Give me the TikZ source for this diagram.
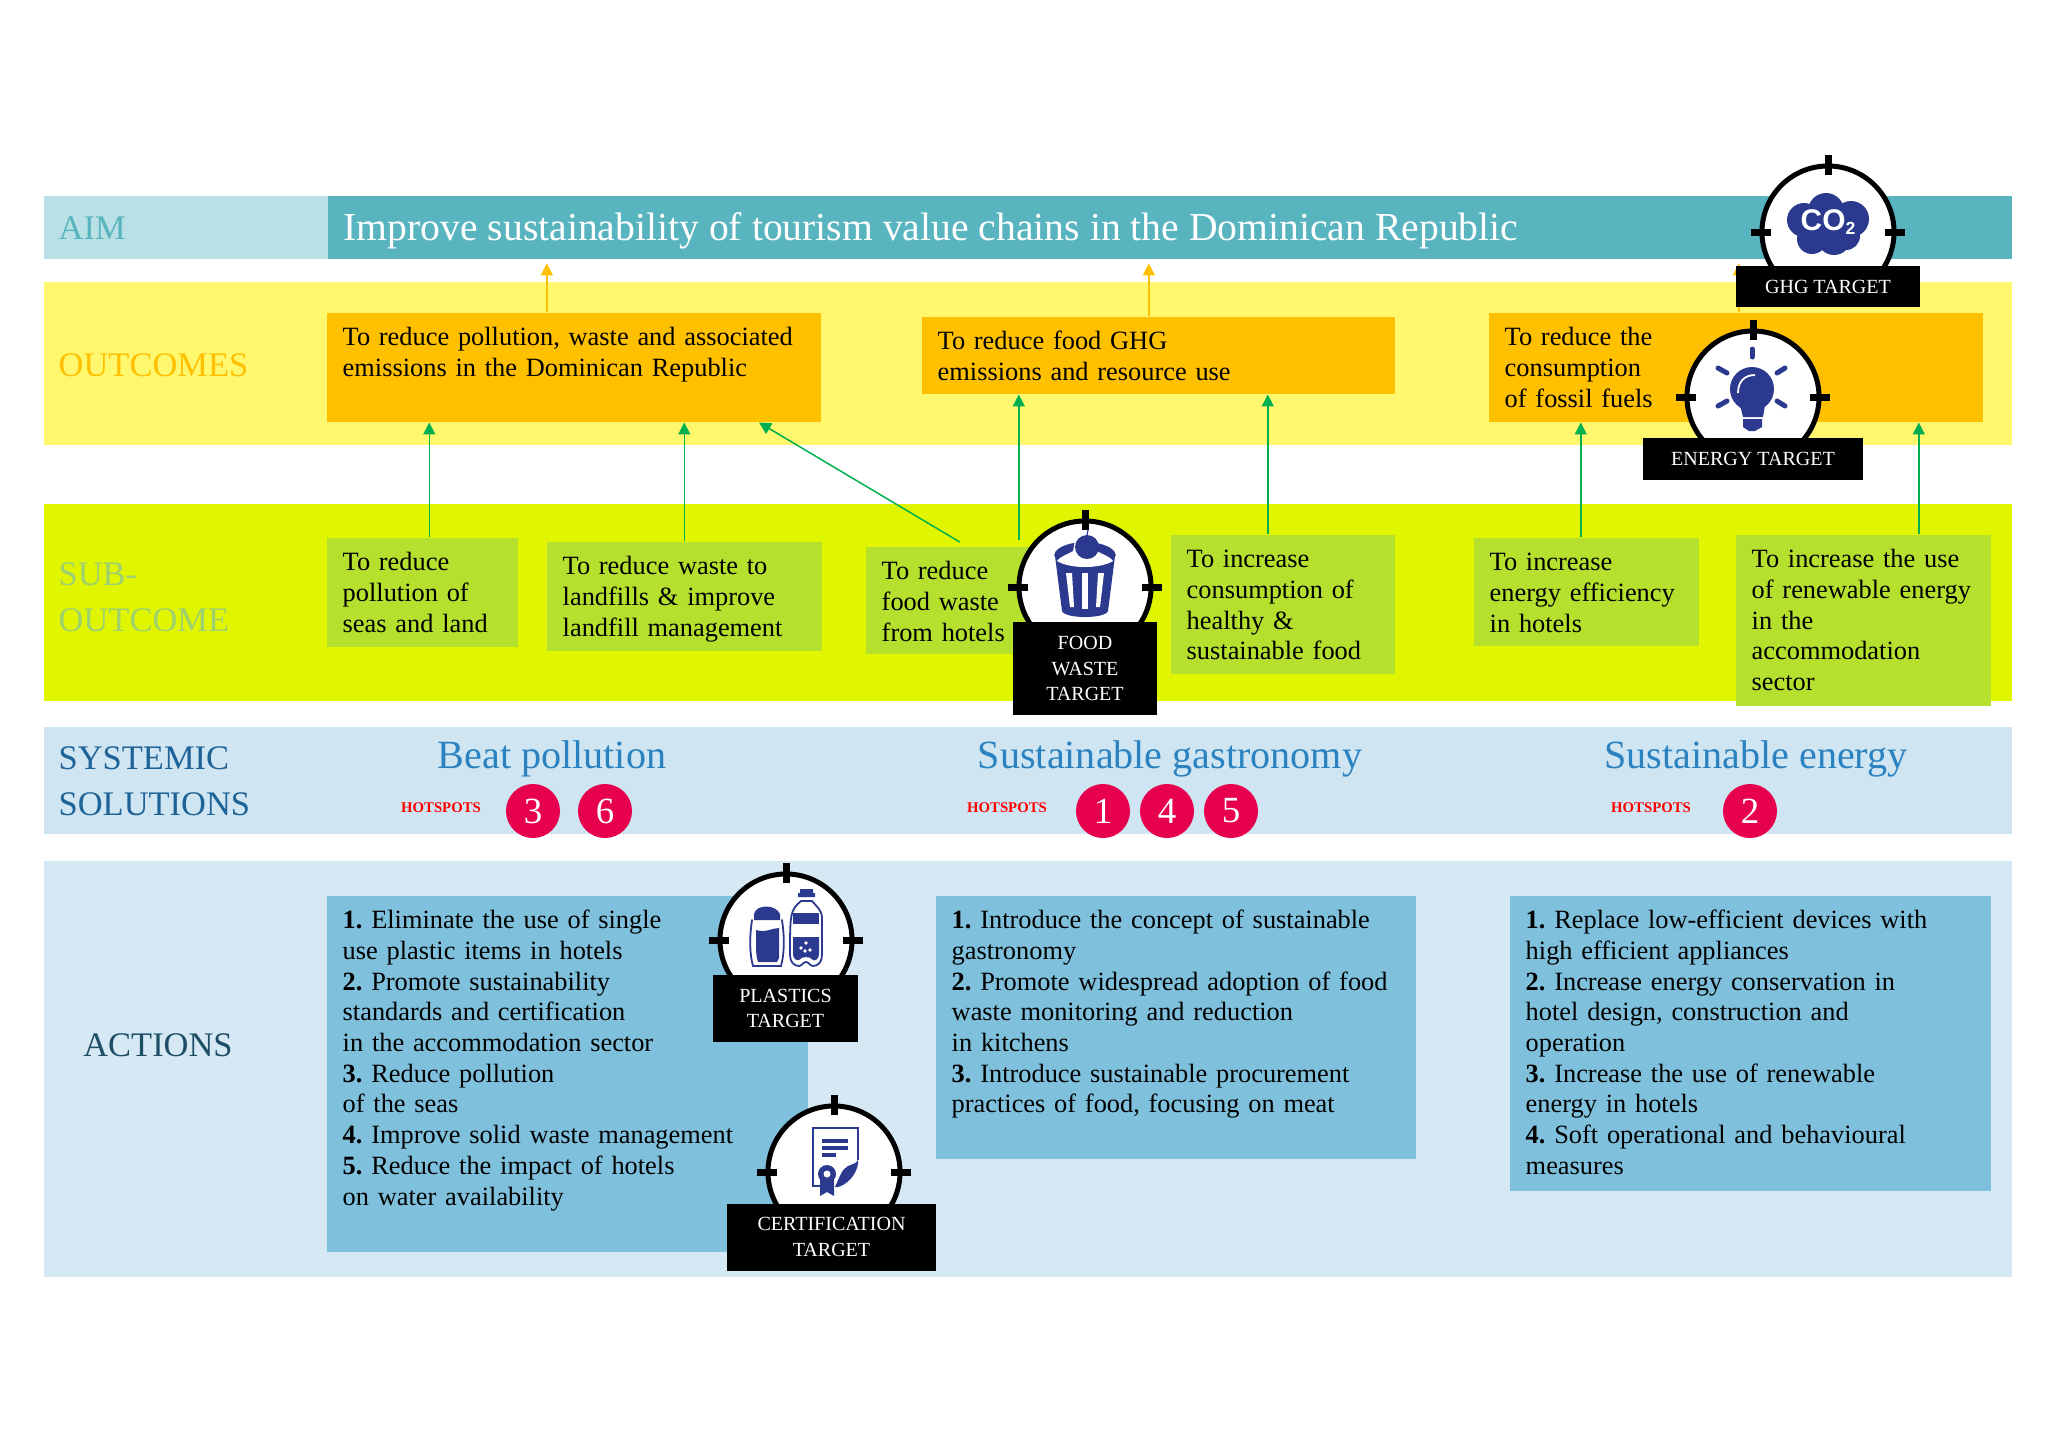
\documentclass[tikz,border=0pt]{standalone}
\usepackage{fontspec}
\setmainfont{Liberation Serif}
\setsansfont{Liberation Sans}
\usetikzlibrary{arrows.meta}

\definecolor{aimlight}{HTML}{B9E0E5}
\definecolor{aimteal}{HTML}{58B5C0}
\definecolor{outband}{HTML}{FFF76E}
\definecolor{outbox}{HTML}{FFC000}
\definecolor{subband}{HTML}{E0F500}
\definecolor{subbox}{HTML}{B5E02E}
\definecolor{subtext}{HTML}{9CD070}
\definecolor{sysband}{HTML}{CFE5F2}
\definecolor{actband}{HTML}{D5E8F3}
\definecolor{actbox}{HTML}{7FC0DC}
\definecolor{headblue}{HTML}{2B82C0}
\definecolor{darkblue}{HTML}{1D6397}
\definecolor{acttext}{HTML}{1E4E66}
\definecolor{hotred}{HTML}{E6004D}
\definecolor{arrowgreen}{HTML}{00B050}
\definecolor{icon}{HTML}{2B3A8F}

\tikzset{
  band/.style 2 args={anchor=north west, inner sep=0, minimum width=#1cm, minimum height=#2cm},
  tbox/.style 2 args={anchor=north west, inner xsep=0.16cm, inner ysep=0, align=left,
    text width=#1cm, text height=0.33cm, text depth=#2cm,
    font=\fontsize{7.5}{8.73}\selectfont\frenchspacing},
  lab/.style={anchor=west, inner sep=0, font=\fontsize{9.8}{13.1}\selectfont},
  head/.style={text=headblue, font=\fontsize{11.4}{13}\selectfont},
  hot/.style={text=red, font=\bfseries\fontsize{4.2}{5}\selectfont},
  hotnum/.style={circle, fill=hotred, text=white, inner sep=0, minimum size=0.54cm,
    font=\fontsize{10.5}{12}\selectfont},
  ring/.style={circle, draw=black, fill=white, line width=0.05cm, inner sep=0, minimum size=1.32cm},
  tag/.style={fill=black, text=white, inner sep=0, align=center,
    font=\fontsize{5.7}{7.2}\selectfont},
  tick/.style={draw=black, line width=0.07cm},
  gline/.style={draw=arrowgreen, line width=0.015cm},
  oline/.style={draw=outbox, line width=0.015cm},
  ic/.style={fill=icon, draw=none},
  icl/.style={draw=icon, line cap=round},
}
\newcommand{\ringticks}[1]{%
  \foreach \a in {0,180,-90} \path[tick] (#1) ++(\a:57) -- ++(\a:20);}

\begin{document}
\begin{tikzpicture}[>={Triangle[length=0.12cm,width=0.12cm]}, x=0.01cm, y=-0.01cm]
\useasboundingbox (1,0) rectangle (2049,1447);
%%%%%%%%%%%%%%%%%%%%%% Aim
\draw (44,195) node[band={2.84}{0.63}, fill=aimlight] (aimlab) {};
\draw (328,195) node[band={16.83}{0.63}, fill=aimteal] (aim) {};
\draw (aimlab.west) ++ (15,1) node[lab, text=aimteal] (aimtxt) {AIM};
\draw (aim.west) ++ (16,4) node[anchor=west, inner sep=0, text=white, font=\fontsize{11.27}{13}\selectfont] (aimtitle)
  {Improve sustainability of tourism value chains in the Dominican Republic};

%%%%%%%%%%%%%%%%%%%%%% Outcomes
\draw (44,281) node[band={19.67}{1.63}, fill=outband] (outrow) {};
\draw (outrow.west) ++ (15,2) node[lab, text=outbox] (outtxt) {OUTCOMES};
%% Out1
\draw (327,312) node[tbox={4.62}{0.76}, fill=outbox] (out1)
  {To reduce pollution, waste and associated\\emissions in the Dominican Republic};
%% Out2
\draw (922,316) node[tbox={4.41}{0.44}, fill=outbox] (out2)
  {To reduce food GHG\\emissions and resource use};
%% Out3
\draw (1489,312) node[tbox={4.62}{0.76}, fill=outbox] (out3)
  {To reduce the\\consumption\\of fossil fuels};

%%%%%%%%%%%%%%%%%%%%%% Sub-outcome
\draw (44,503) node[band={19.67}{1.97}, fill=subband] (subrow) {};
\draw (subrow.west) ++ (15,-5) node[lab, text=subtext, align=left] (subtxt) {SUB-\\OUTCOME};
\draw (327,537) node[tbox={1.59}{0.76}, fill=subbox] (sub1)
  {To reduce\\pollution of\\seas and land};
\draw (547,541) node[tbox={2.43}{0.76}, fill=subbox] (sub2)
  {To reduce waste to\\landfills \& improve\\landfill management};
\draw (866,546) node[tbox={1.32}{0.74}, fill=subbox] (sub3)
  {To reduce\\food waste\\from hotels};
\draw (1171,534) node[tbox={1.92}{1.06}, fill=subbox] (sub4)
  {To increase\\consumption of\\healthy \&\\sustainable food};
\draw (1474,537) node[tbox={1.93}{0.75}, fill=subbox] (sub5)
  {To increase\\energy efficiency\\in hotels};
\draw (1736,534) node[tbox={2.23}{1.38}, fill=subbox] (sub6)
  {To increase the use\\of renewable energy\\in the\\accommodation\\sector};

%% arrows up
\path[gline, ->] ([xshift=0.07cm]sub1.north) -- ([xshift=0.07cm]sub1.north |- out1.south);
\path[gline, ->] (sub2.north) -- (sub2.north |- out1.south);
\path[gline, ->] ([xshift=0.12cm,yshift=0.04cm]sub3.north) -- ([xshift=1.85cm]out1.south);
\path[gline, ->] ([xshift=0.71cm,yshift=0.06cm]sub3.north) -- ([xshift=0.71cm]sub3.north |- out2.south);
\path[gline, ->] ([xshift=-0.15cm]sub4.north) -- ([xshift=-0.15cm]sub4.north |- out2.south);
\path[gline, ->] ([xshift=-0.055cm]sub5.north) -- ([xshift=-0.055cm]sub5.north |- out3.south);
\path[gline, ->] ([xshift=0.555cm]sub6.north) -- ([xshift=0.555cm]sub6.north |- out3.south);
\path[oline, ->, shorten >=0.04cm] ([xshift=-0.27cm]out1.north) -- ([xshift=-0.27cm]out1.north |- aim.south);
\path[oline, ->, shorten >=0.04cm] ([xshift=-0.095cm]out2.north) -- ([xshift=-0.095cm]out2.north |- aim.south);
\path[oline, ->, shorten >=0.04cm] ([xshift=0.03cm]out3.north) -- ([xshift=0.03cm]out3.north |- aim.south);

%%%%%%%%%%%%%%%%%%%%%% Systemic solutions
\draw (44,726) node[band={19.67}{1.07}, fill=sysband] (sysrow) {};
\draw (sysrow.west) ++ (15,1) node[lab, text=darkblue, align=left] (systxt) {SYSTEMIC\\SOLUTIONS};
\draw (553,759) node[head] (beat) {Beat pollution};
\draw (1171,759) node[head] (gastro) {Sustainable gastronomy};
\draw (1757,759) node[head] (energy) {Sustainable energy};
\draw (442,808) node[hot] (hot1) {HOTSPOTS};
\draw (1008,808) node[hot] (hot2) {HOTSPOTS};
\draw (1652,808) node[hot] (hot3) {HOTSPOTS};
\draw (534,811) node[hotnum] (h3) {3};
\draw (h3) ++ (72,0) node[hotnum] (h6) {6};
\draw (1104,811) node[hotnum] (h1) {1};
\draw (h1) ++ (64,0) node[hotnum] (h4) {4};
\draw (h4) ++ (64,0) node[hotnum] (h5) {5};
\draw (1751,811) node[hotnum] (h2) {2};

%%%%%%%%%%%%%%%%%%%%%% Actions
\draw (44,860) node[band={19.67}{4.16}, fill=actband] (actrow) {};
\draw (159,1045) node[lab, anchor=center, text=acttext] (acttxt) {ACTIONS};
\draw (327,895) node[tbox={4.49}{3.23}, fill=actbox] (act1)
  {\textbf{1.} Eliminate the use of single\\use plastic items in hotels\\
   \textbf{2.} Promote sustainability\\standards and certification\\
   in the accommodation sector\\\textbf{3.} Reduce pollution\\of the seas\\
   \textbf{4.} Improve solid waste management\\\textbf{5.} Reduce the impact of hotels\\
   on water availability};
\draw (936,895) node[tbox={4.48}{2.30}, fill=actbox] (act2)
  {\textbf{1.} Introduce the concept of sustainable\\gastronomy\\
   \textbf{2.} Promote widespread adoption of food\\waste monitoring and reduction\\
   in kitchens\\\textbf{3.} Introduce sustainable procurement\\
   practices of food, focusing on meat};
\draw (1510,895) node[tbox={4.49}{2.62}, fill=actbox] (act3)
  {\textbf{1.} Replace low-efficient devices with\\high efficient appliances\\
   \textbf{2.} Increase energy conservation in\\hotel design, construction and\\
   operation\\\textbf{3.} Increase the use of renewable\\energy in hotels\\
   \textbf{4.} Soft operational and behavioural\\measures};

%%%%%%%%%%%%%%%%%%%%%% GHG target
\draw (1829,232) node[ring] (ghg) {};
\ringticks{ghg}
\begin{scope}[shift={(ghg.center)}]
\foreach \px/\py/\r in {-24/-12/17, -2/-21/18, 23/-13/18, -16/7/15, 6/6/17, 18/4/14, 0/-8/22}
  \path[ic] (\px,\py) circle (\r);
\end{scope}
\draw (ghg) ++ (0,-10) node[text=white, font=\sffamily\bfseries\fontsize{8.5}{10}\selectfont] (co2)
  {CO\raisebox{-1.2pt}{\fontsize{5}{6}\selectfont 2}};
\draw (1829,286.5) node[tag, minimum width=1.84cm, minimum height=0.41cm] (ghgtag) {GHG TARGET};

%%%%%%%%%%%%%%%%%%%%%% Energy target
\draw (1754,397) node[ring] (bulb) {};
\ringticks{bulb}
\begin{scope}[shift={(bulb.center)}]
\path[ic] (-1,-8) circle (22);
\path[ic] (-13,8) -- (-10,20) -- (10,20) -- (12,8) -- cycle;
\path[ic] (-10,22) -- (9,22) -- (9,30) -- (2,34) -- (-4,34) -- (-10,30) -- cycle;
\path[draw=white, line width=0.018cm] (-15,-4) .. controls (-15,-16) and (-8,-22) .. (2,-22);
\path[icl, line width=0.05cm] (-1,-48) -- (-1,-40);
\path[icl, line width=0.05cm] (-35,-29) -- (-26,-24);
\path[icl, line width=0.05cm] (32,-29) -- (24,-24);
\path[icl, line width=0.05cm] (-35,9) -- (-26,4);
\path[icl, line width=0.05cm] (32,9) -- (24,4);
\end{scope}
\draw (1754,459) node[tag, minimum width=2.2cm, minimum height=0.42cm] (bulbtag) {ENERGY TARGET};

%%%%%%%%%%%%%%%%%%%%%% Food waste target
\draw (1086,587) node[ring] (food) {};
\ringticks{food}
\begin{scope}[shift={(food.center)}]
\path[ic] (-30,-31) -- (-23,24) .. controls (-20,32) and (20,32) .. (23,24) -- (30,-31) -- cycle;
\path[ic] (-31,-31) arc (180:250:31 and 14) -- (-12,-36) -- (-24,-30) -- cycle;
\path[ic] (31,-31) arc (0:-70:31 and 14) -- (12,-36) -- (24,-30) -- cycle;
\path[fill=white] (-28,-26) .. controls (-15,-18) and (15,-18) .. (28,-26) .. controls (20,-38) and (-20,-38) .. (-28,-26) -- cycle;
\path[fill=white] (-19,-14) -- (-13,-14) -- (-11,20) -- (-15,20) -- cycle;
\path[fill=white] (-3,-14) -- (3,-14) -- (3,22) -- (-3,22) -- cycle;
\path[fill=white] (19,-14) -- (13,-14) -- (11,20) -- (15,20) -- cycle;
\path[ic] (2,-40) circle (12);
\path[icl, line width=0.012cm] (2,-52) -- (3,-57);
\end{scope}
\draw (1086,668.5) node[tag, minimum width=1.44cm, minimum height=0.93cm] (foodtag) {FOOD\\WASTE\\TARGET};

%%%%%%%%%%%%%%%%%%%%%% Plastics target
\draw (787,940) node[ring] (plast) {};
\ringticks{plast}
\begin{scope}[shift={(plast.center)}]
\path[ic] (-32,-26) .. controls (-30,-36) and (-10,-36) .. (-6,-26) -- (-6,-20) -- (-32,-20) -- cycle;
\path[icl, line width=0.018cm] (-34,-20) .. controls (-37,0) and (-36,15) .. (-33,26) -- (-5,26) .. controls (-2,15) and (-1,0) .. (-4,-20);
\path[ic] (-30,-10) .. controls (-20,-7) and (-14,-12) .. (-7,-12) -- (-7,18) .. controls (-8,21) .. (-9,22) -- (-28,22) .. controls (-30,15) .. (-30,-10) -- cycle;
\path[ic] (14,-51) -- (27,-51) -- (27,-47) -- (29,-47) -- (29,-43) -- (12,-43) -- (12,-47) -- (14,-47) -- cycle;
\path[icl, line width=0.018cm] (15,-39) .. controls (4,-30) and (4,-25) .. (4,15) .. controls (4,22) and (8,26) .. (13,26) .. controls (16,26) and (17,22) .. (20,22) .. controls (23,22) and (24,26) .. (27,26) .. controls (32,26) and (36,22) .. (36,15) -- (36,-22) .. controls (36,-30) and (30,-34) .. (26,-39) -- cycle;
\path[ic] (7,-27) -- (33,-27) -- (33,-16) -- (7,-16) -- cycle;
\path[ic] (7,-3) -- (33,-3) -- (33,14) .. controls (33,20) and (28,21) .. (27,20) .. controls (24,16) and (16,16) .. (13,20) .. controls (10,21) and (7,18) .. (7,14) -- cycle;
\foreach \px/\py in {20/3, 15/8, 24/10, 19/11} \path[fill=white] (\px,\py) circle (1.8);
\end{scope}
\draw (786.5,1008.5) node[tag, minimum width=1.45cm, minimum height=0.67cm] (plasttag) {PLASTICS\\TARGET};

%%%%%%%%%%%%%%%%%%%%%% Certification target
\draw (835,1172) node[ring] (cert) {};
\ringticks{cert}
\begin{scope}[shift={(cert.center)}]
\path[icl, line width=0.025cm, line cap=butt] (-10,14) -- (-21,14) -- (-21,-44) -- (24,-44) -- (24,-12);
\path[ic] (24,-12) -- (24,-8) .. controls (22,4) and (12,13) .. (4,15) -- (1,15) .. controls (6,4) and (8,-3) .. (14,-6) .. controls (18,-8) and (22,-8) .. (24,-12) -- cycle;
\path[ic] (-12,-33) rectangle (14,-29);
\path[ic] (-12,-26) rectangle (14,-22);
\path[ic] (-12,-19) rectangle (2,-15);
\path[ic] (-14,8) -- (-14,24) -- (-7,20) -- (0,24) -- (0,8) -- cycle;
\path[ic] (-7,2) circle (9);
\path[fill=white] (-7,2) circle (3.5);
\end{scope}
\draw (832.5,1237) node[tag, minimum width=2.09cm, minimum height=0.67cm] (certtag) {CERTIFICATION\\TARGET};
\end{tikzpicture}
\end{document}
